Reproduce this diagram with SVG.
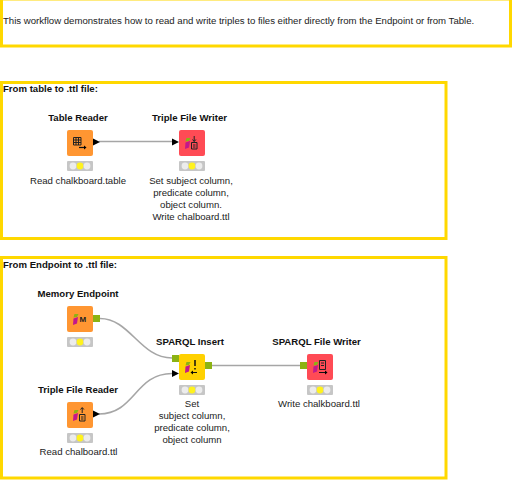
<svg xmlns="http://www.w3.org/2000/svg" width="512" height="480" viewBox="0 0 512 480">
<style>
text{font-family:"Liberation Sans",Arial,sans-serif;font-size:9.6px;fill:#222}
.b{font-weight:bold;fill:#111}
.m{text-anchor:middle}
.box{fill:#fff;stroke:#ffd800;stroke-width:3}
.conn{fill:none;stroke:#a6a6a6;stroke-width:1.600}
.tl{fill:#c6c6c6}
.lamp{fill:#ececec}
.y{fill:#fff21e}
.gp{fill:#8cb313}
.tri{fill:#000}
.ic{fill:none;stroke:#222;stroke-width:1}
.o{fill:#ff9632}.r{fill:#ff4b55}.s{fill:#ffd100}
.lg{fill:#8cb313}.lm{fill:#c3178c}
</style>
<defs>
<g id="traffic"><rect class="tl" x="0" y="0" width="26" height="10" rx="1"/><circle class="lamp" cx="6" cy="5" r="3.400"/><circle class="y" cx="13" cy="5" r="3.400"/><circle class="lamp" cx="20" cy="5" r="3.400"/></g>
<g id="leaf"><path class="lg" d="M7.500 8L11.500 8L10 11L6.500 11.500Z"/><path class="lm" d="M6.500 12.500L11 11L10 17.500L6 19Z"/></g>
<path id="tri" class="tri" d="M0 -0.500L7 3L0 6.500Z"/>
</defs>
<rect class="box" x="1.500" y="-1" width="509" height="47"/>
<rect class="box" x="1.500" y="82.500" width="444.500" height="156"/>
<rect class="box" x="1.500" y="257.500" width="444.500" height="220.500"/>
<text x="3" y="24">This workflow demonstrates how to read and write triples to files either directly from the Endpoint or from Table.</text>
<text class="b" x="3" y="92">From table to .ttl file:</text>
<text class="b" x="3" y="268">From Endpoint to .ttl file:</text>
<g id="connectors">
<path class="conn" d="M99 141.500H172"/>
<path class="conn" d="M100 318.500C130 318.500 140 358 172 358"/>
<path class="conn" d="M99 414C135 414 135 373.500 172 373.500"/>
<path class="conn" d="M212 365.500H300"/>
</g>
<g id="table-reader">
<text class="b m" x="78" y="121">Table Reader</text>
<rect class="o" x="67" y="130" width="26" height="26" rx="2"/>
<path class="ic" d="M73.500 137.500h7.500v7.500h-7.500zM76 137.500v7.500M78.500 137.500v7.500M73.500 140h7.500M73.500 142.500h7.500"/>
<path d="M79 147.500h6" stroke="#111" stroke-width="1.200"/><path class="tri" d="M84 145.500l2.500 2-2.500 2z"/>
<use href="#tri" x="93" y="139"/>
<use href="#traffic" x="67" y="161"/>
<text class="m" x="78" y="184">Read chalkboard.table</text>
</g>
<g id="triple-file-writer">
<text class="b m" x="189.500" y="121">Triple File Writer</text>
<rect class="r" x="179" y="130" width="26" height="26" rx="2"/>
<use href="#leaf" x="179" y="130"/>
<path class="ic" d="M191.500 142.500h5.500v6.500h-5.500zM193 145h2.500M193 147h2.500"/>
<path d="M194.200 136v5.500M192.500 139.500l1.700 2 1.700-2" class="ic"/>
<use href="#tri" x="172" y="139"/>
<use href="#traffic" x="179" y="161"/>
<text class="m" x="191" y="184">Set subject column,</text>
<text class="m" x="191" y="196">predicate column,</text>
<text class="m" x="191" y="208">object column.</text>
<text class="m" x="191" y="220">Write chalboard.ttl</text>
</g>
<g id="memory-endpoint">
<text class="b m" x="78" y="297">Memory Endpoint</text>
<rect class="o" x="67" y="306" width="26" height="26" rx="2"/>
<use href="#leaf" x="67" y="306"/>
<text x="79.500" y="322" style="font-size:8px;font-weight:bold;fill:#222">M</text>
<rect class="gp" x="93" y="315" width="7" height="7"/>
<use href="#traffic" x="67" y="337"/>
</g>
<g id="triple-file-reader">
<text class="b m" x="78" y="393">Triple File Reader</text>
<rect class="o" x="67" y="402" width="26" height="26" rx="2"/>
<use href="#leaf" x="67" y="402"/>
<path class="ic" d="M79.500 414.500h5.500v6.500h-5.500zM81 417h2.500M81 419h2.500"/>
<path d="M82.200 413v-5M80.500 409.500l1.700-2 1.700 2" class="ic"/>
<use href="#tri" x="93" y="411"/>
<use href="#traffic" x="67" y="433"/>
<text class="m" x="78.500" y="455">Read chalboard.ttl</text>
</g>
<g id="sparql-insert">
<text class="b m" x="190" y="345">SPARQL Insert</text>
<rect class="s" x="179" y="354" width="26" height="26" rx="2"/>
<use href="#leaf" x="179" y="354"/>
<path d="M195 360v6M195 368v1.500" stroke="#111" stroke-width="1.500"/>
<path d="M191 372.500h6" stroke="#111"/><path class="tri" d="M193 370.500l-2.500 2 2.500 2z"/>
<rect class="gp" x="172" y="355" width="7" height="7"/>
<use href="#tri" x="172" y="370.500"/>
<rect class="gp" x="205" y="362" width="7" height="7"/>
<use href="#traffic" x="179" y="385"/>
<text class="m" x="192" y="407">Set</text>
<text class="m" x="192" y="419">subject column,</text>
<text class="m" x="192" y="431">predicate column,</text>
<text class="m" x="192" y="443">object column</text>
</g>
<g id="sparql-file-writer">
<text class="b m" x="316.500" y="345">SPARQL File Writer</text>
<rect class="r" x="307" y="354" width="26" height="26" rx="2"/>
<use href="#leaf" x="307" y="354"/>
<path class="ic" d="M319.500 360.500h6v9h-6zM321 363h3M321 365.500h3"/>
<path d="M319 372.500h7" stroke="#111"/><path class="tri" d="M325 370.500l2.500 2-2.500 2z"/>
<rect class="gp" x="300" y="362" width="7" height="7"/>
<use href="#traffic" x="307" y="385"/>
<text class="m" x="319" y="407">Write chalkboard.ttl</text>
</g>
</svg>
